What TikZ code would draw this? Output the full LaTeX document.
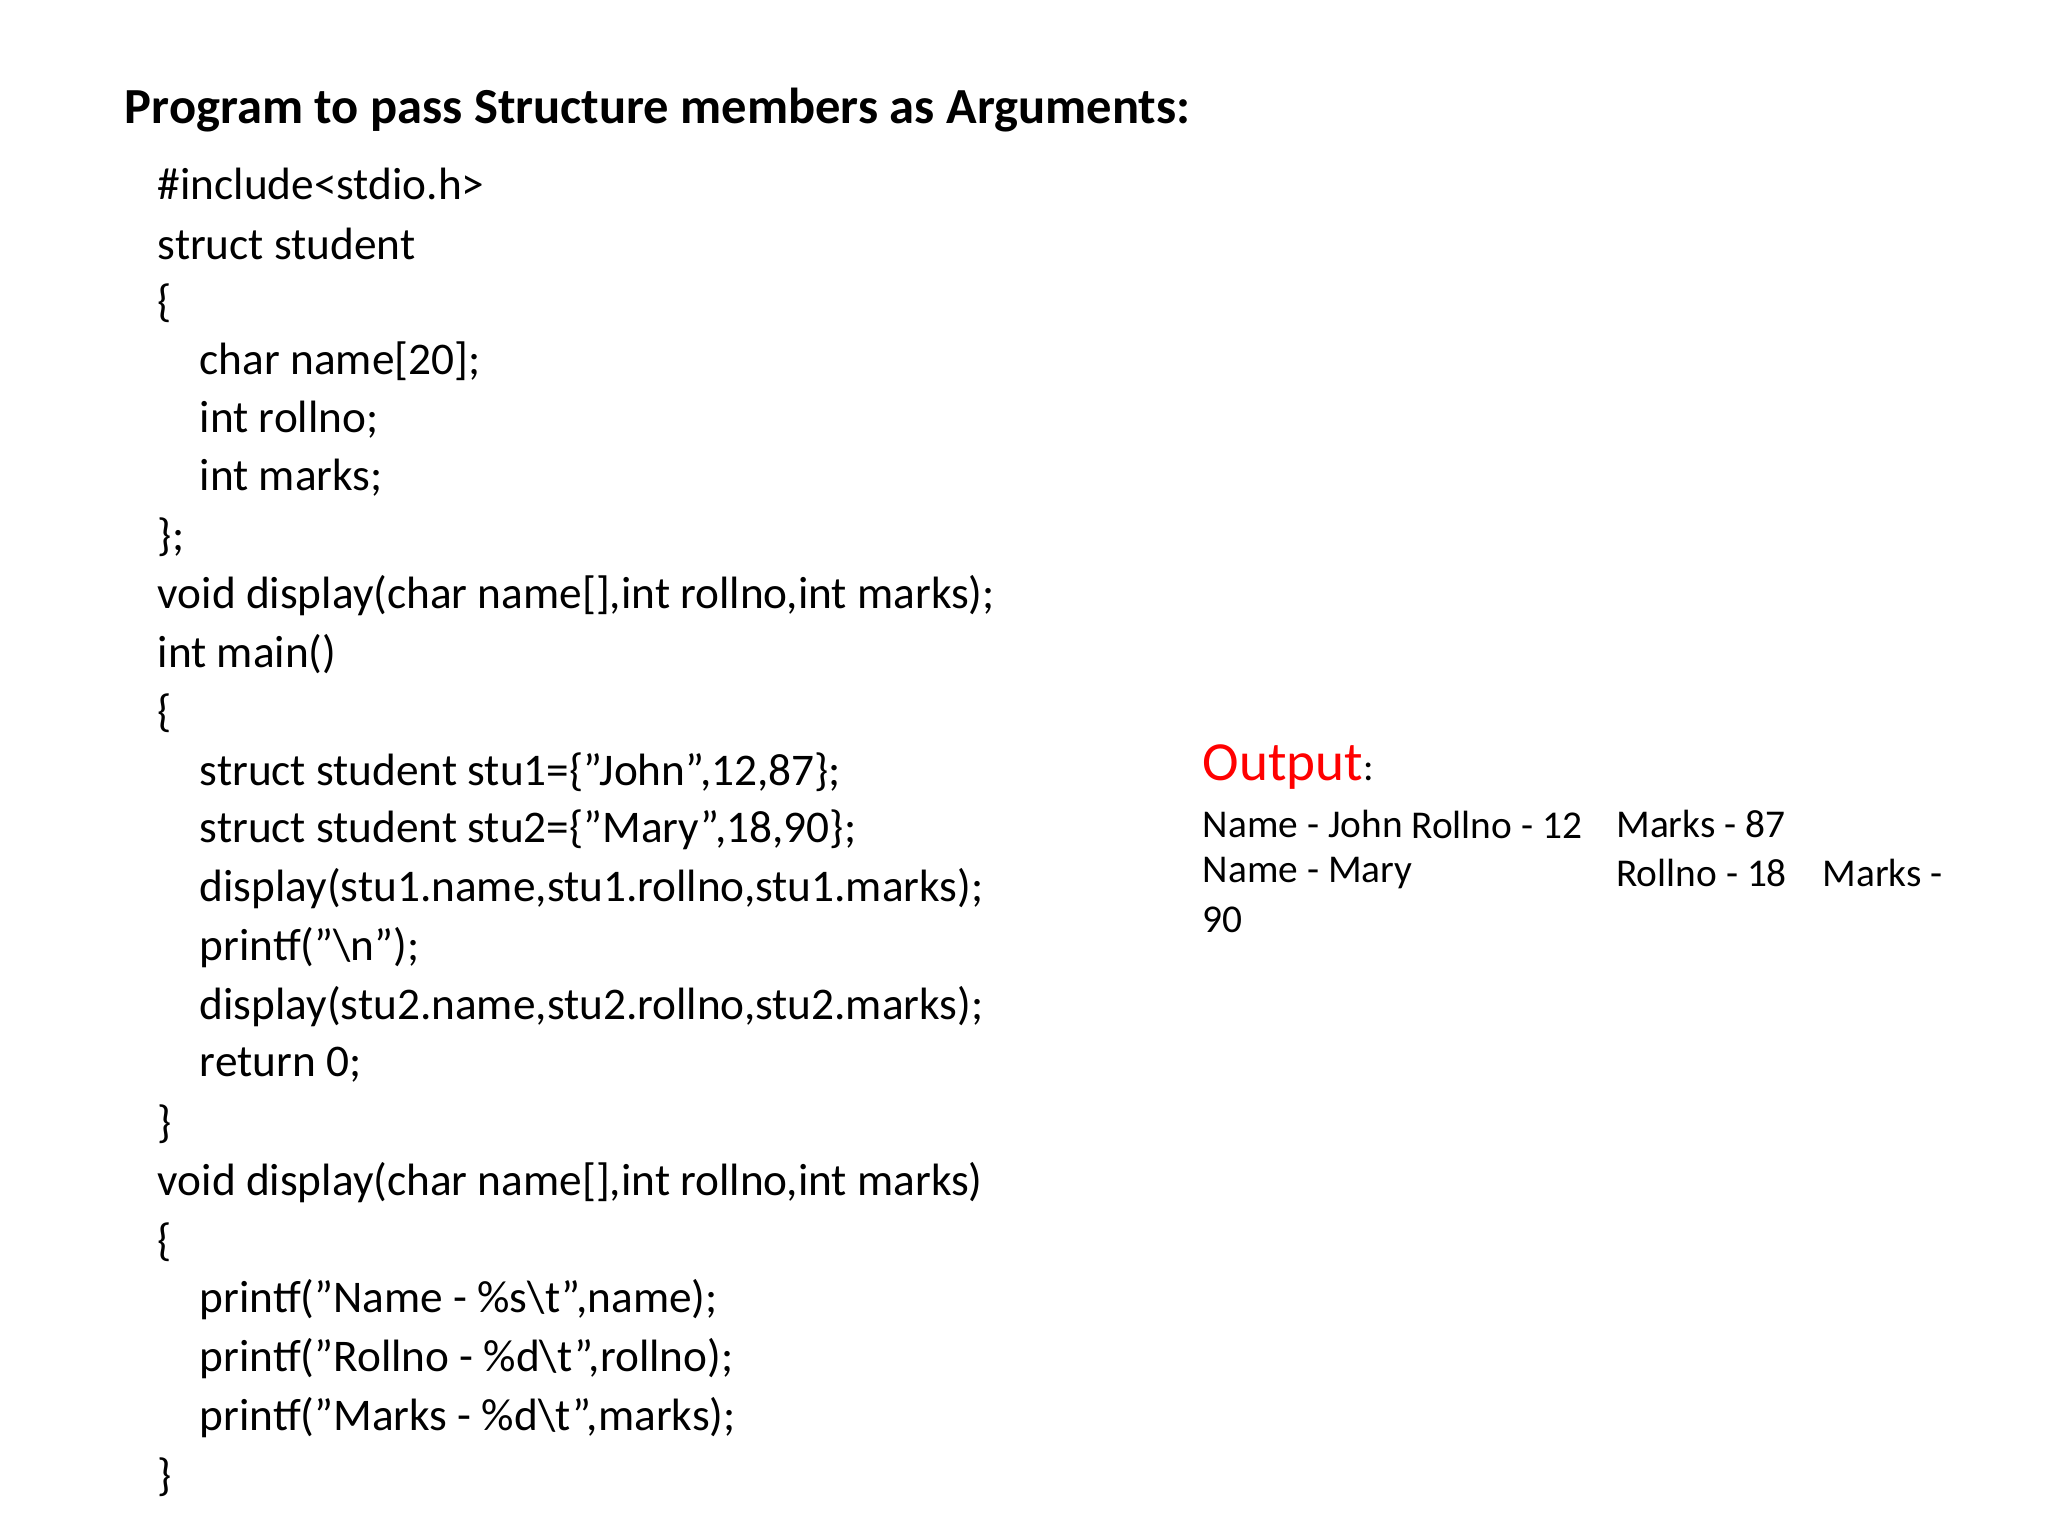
\documentclass[tikz,border=0pt]{standalone}
\usepackage{fontspec}
\setmainfont{Carlito}
\newcommand\qq{\char34\relax}
\begin{document}
\begin{tikzpicture}[x=1pt,y=-1pt,
  code/.style={anchor=west,inner sep=0pt,font=\fontsize{34.5}{34.5}\selectfont},
  outp/.style={anchor=west,inner sep=0pt,font=\fontsize{30}{30}\selectfont}]
\useasboundingbox[fill=white] (0,0) rectangle (1560,1170);
\node[anchor=west,inner sep=0pt,font=\fontsize{38.5}{38.5}\selectfont\bfseries] (title) at (95,84) {Program to pass Structure members as Arguments:};
\node[code] (l1) at (120,140) {\#include<stdio.h>};
\node[code] (l2) at (120,186) {struct student};
\node[code] (l3) at (120,231) {\{};
\node[code] (l4) at (152,275) {char name[20];};
\node[code] (l5) at (152,320) {int rollno;};
\node[code] (l6) at (152,364) {int marks;};
\node[code] (l7) at (120,409) {\};};
\node[code] (l8) at (120,454) {void display(char name[],int rollno,int marks);};
\node[code] (l9) at (120,498) {int main()};
\node[code] (l10) at (120,543) {\{};
\node[code] (l11) at (152,588) {struct student stu1=\{\qq John\qq,12,87\};};
\node[code] (l12) at (152,632) {struct student stu2=\{\qq Mary\qq,18,90\};};
\node[code] (l13) at (152,677) {display(stu1.name,stu1.rollno,stu1.marks);};
\node[code] (l14) at (152,722) {printf(\qq\textbackslash n\qq);};
\node[code] (l15) at (152,767) {display(stu2.name,stu2.rollno,stu2.marks);};
\node[code] (l16) at (152,811) {return 0;};
\node[code] (l17) at (120,856) {\}};
\node[code] (l18) at (120,901) {void display(char name[],int rollno,int marks)};
\node[code] (l19) at (120,946) {\{};
\node[code] (l20) at (152,990) {printf(\qq Name - \%s\textbackslash t\qq,name);};
\node[code] (l21) at (152,1035) {printf(\qq Rollno - \%d\textbackslash t\qq,rollno);};
\node[code] (l22) at (152,1080) {printf(\qq Marks - \%d\textbackslash t\qq,marks);};
\node[code] (l23) at (120,1125) {\}};
\node[anchor=west,inner sep=0pt] (out) at (916,584) {{\fontsize{42}{42}\selectfont\color{red}Output}{\fontsize{30}{30}\selectfont:}};
\node[outp] (o1) at (916,628) {Name - John};
\node[outp] (o2) at (1075,628) {Rollno - 12};
\node[outp] (o3) at (1231,628) {Marks - 87};
\node[outp] (o4) at (916,665) {Name - Mary};
\node[outp] (o5) at (1231,665) {Rollno - 18};
\node[outp] (o6) at (1388,665) {Marks -};
\node[outp] (o7) at (916,701) {90};
\end{tikzpicture}
\end{document}
